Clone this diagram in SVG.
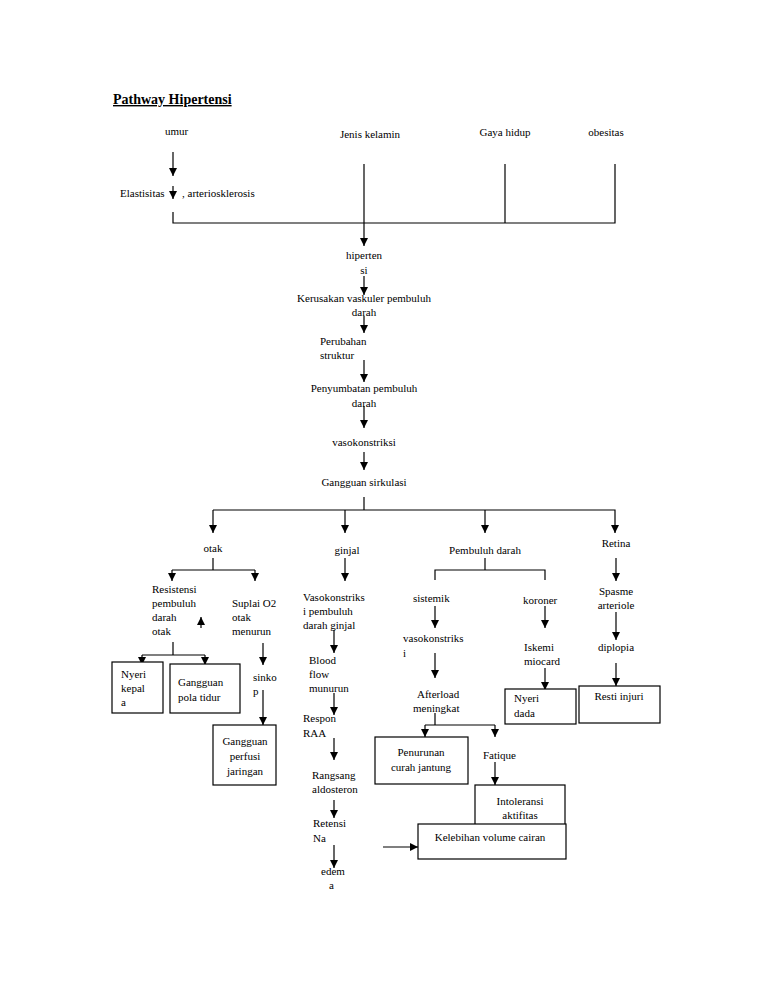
<svg xmlns="http://www.w3.org/2000/svg" width="768" height="994" viewBox="0 0 768 994">
<defs>
<marker id="ah" viewBox="0 0 10 10" refX="10" refY="5" markerWidth="8" markerHeight="8" markerUnits="userSpaceOnUse" orient="auto"><path d="M0,0L10,5L0,10z" fill="#000"/></marker>
<style>
text{font-family:"Liberation Serif","Times New Roman",serif;font-size:11px;fill:#000}
.c{text-anchor:middle}
line,polyline{stroke:#000;stroke-width:1.2;fill:none}
.a{marker-end:url(#ah)}
rect{fill:#fff;stroke:#000;stroke-width:1.2}
</style>
</defs>
<rect x="0" y="0" width="768" height="994" style="stroke:none"/>
<text x="113" y="104" style="font-size:14px;font-weight:bold;text-decoration:underline">Pathway Hipertensi</text>
<g id="connectors">
<line class="a" x1="173" y1="152" x2="173" y2="176"/>
<line class="a" x1="173" y1="186" x2="173" y2="199"/>
<polyline points="173,212 173,223 615,223 615,164"/>
<line x1="505" y1="164" x2="505" y2="223"/>
<line class="a" x1="364" y1="164" x2="364" y2="246"/>
<line class="a" x1="364" y1="276" x2="364" y2="295"/>
<line class="a" x1="364" y1="316" x2="364" y2="333"/>
<line class="a" x1="364" y1="360" x2="364" y2="382"/>
<line class="a" x1="364" y1="406" x2="364" y2="428"/>
<line class="a" x1="364" y1="452" x2="364" y2="470"/>
<polyline points="364,497 364,510"/>
<polyline class="a" points="213,510 615,510 615,533"/>
<line class="a" x1="213" y1="510" x2="213" y2="533"/>
<line class="a" x1="345" y1="510" x2="345" y2="533"/>
<line class="a" x1="485" y1="510" x2="485" y2="533"/>
<polyline points="213,558 213,570"/>
<polyline points="172,570 255,570"/>
<line class="a" x1="172" y1="570" x2="172" y2="581"/>
<line class="a" x1="255" y1="570" x2="255" y2="581"/>
<line class="a" x1="201" y1="628" x2="201" y2="617"/>
<polyline points="173,642 173,655"/>
<polyline points="142,655 205,655"/>
<line class="a" x1="142" y1="655" x2="142" y2="665"/>
<line class="a" x1="205" y1="655" x2="205" y2="665"/>
<line class="a" x1="263" y1="643" x2="263" y2="665"/>
<line class="a" x1="263" y1="690" x2="263" y2="725"/>
<line class="a" x1="345" y1="558" x2="345" y2="581"/>
<line class="a" x1="334" y1="630" x2="334" y2="653"/>
<line class="a" x1="334" y1="693" x2="334" y2="715"/>
<line class="a" x1="334" y1="738" x2="334" y2="760"/>
<line class="a" x1="334" y1="800" x2="334" y2="818"/>
<line class="a" x1="334" y1="845" x2="334" y2="868"/>
<polyline points="485,558 485,570"/>
<polyline points="435,580 435,570 545,570 545,580"/>
<line class="a" x1="435" y1="606" x2="435" y2="628"/>
<line class="a" x1="545" y1="606" x2="545" y2="628"/>
<line class="a" x1="435" y1="653" x2="435" y2="678"/>
<polyline points="435,713 435,725"/>
<polyline points="425,725 495,725"/>
<line class="a" x1="425" y1="725" x2="425" y2="737"/>
<line class="a" x1="495" y1="725" x2="495" y2="737"/>
<line class="a" x1="495" y1="762" x2="495" y2="785"/>
<line class="a" x1="383" y1="847" x2="418" y2="847"/>
<line class="a" x1="545" y1="668" x2="545" y2="690"/>
<line class="a" x1="616" y1="558" x2="616" y2="581"/>
<line class="a" x1="616" y1="612" x2="616" y2="640"/>
<line class="a" x1="616" y1="663" x2="616" y2="686"/>
</g>
<g id="n-umur"><text x="165" y="135">umur</text></g>
<g id="n-jk"><text x="370" y="138" class="c">Jenis kelamin</text></g>
<g id="n-gaya"><text x="505" y="136" class="c">Gaya hidup</text></g>
<g id="n-obes"><text x="606" y="136" class="c">obesitas</text></g>
<g id="n-elast"><text x="120" y="197">Elastisitas</text><text x="182" y="197">, arteriosklerosis</text></g>
<g id="n-hiper"><text x="364" y="259" class="c">hiperten</text><text x="364" y="274" class="c">si</text></g>
<g id="n-kerusakan"><text x="364" y="302" class="c">Kerusakan vaskuler pembuluh</text><text x="364" y="316" class="c">darah</text></g>
<g id="n-perubahan"><text x="320" y="345">Perubahan</text><text x="320" y="359">struktur</text></g>
<g id="n-penyumbatan"><text x="364" y="392" class="c">Penyumbatan pembuluh</text><text x="364" y="407" class="c">darah</text></g>
<g id="n-vaso"><text x="364" y="446" class="c">vasokonstriksi</text></g>
<g id="n-gangsirk"><text x="364" y="486" class="c">Gangguan sirkulasi</text></g>
<g id="n-otak"><text x="213" y="552" class="c">otak</text></g>
<g id="n-ginjal"><text x="347" y="554" class="c">ginjal</text></g>
<g id="n-pd"><text x="485" y="554" class="c">Pembuluh darah</text></g>
<g id="n-retina"><text x="616" y="547" class="c">Retina</text></g>
<g id="n-resist"><text x="152" y="593">Resistensi</text><text x="152" y="607">pembuluh</text><text x="152" y="621">darah</text><text x="152" y="635">otak</text></g>
<g id="n-suplai"><text x="232" y="607">Suplai O2</text><text x="232" y="621">otak</text><text x="232" y="635">menurun</text></g>
<g id="n-sinkop"><text x="253" y="681">sinko</text><text x="253" y="695">p</text></g>
<g id="n-perfusi"><rect x="213" y="725" width="63" height="60"/><text x="245" y="745" class="c">Gangguan</text><text x="245" y="760" class="c">perfusi</text><text x="245" y="775" class="c">jaringan</text></g>
<g id="n-nyerikep"><rect x="112" y="662" width="51" height="51"/><text x="121" y="678">Nyeri</text><text x="121" y="692">kepal</text><text x="121" y="706">a</text></g>
<g id="n-polatidur"><rect x="170" y="664" width="70" height="49"/><text x="178" y="686">Gangguan</text><text x="178" y="701">pola tidur</text></g>
<g id="n-vasoginjal"><text x="303" y="601">Vasokonstriks</text><text x="303" y="615">i pembuluh</text><text x="303" y="629">darah ginjal</text></g>
<g id="n-blood"><text x="309" y="664">Blood</text><text x="309" y="678">flow</text><text x="309" y="692">munurun</text></g>
<g id="n-respon"><text x="303" y="722">Respon</text><text x="303" y="737">RAA</text></g>
<g id="n-rangsang"><text x="312" y="779">Rangsang</text><text x="312" y="793">aldosteron</text></g>
<g id="n-retensi"><text x="313" y="827">Retensi</text><text x="313" y="842">Na</text></g>
<g id="n-edema"><text x="321" y="875">edem</text><text x="329" y="889">a</text></g>
<g id="n-sistemik"><text x="413" y="602">sistemik</text></g>
<g id="n-koroner"><text x="523" y="604">koroner</text></g>
<g id="n-vasosis"><text x="403" y="642">vasokonstriks</text><text x="403" y="657">i</text></g>
<g id="n-afterload"><text x="417" y="698">Afterload</text><text x="413" y="712">meningkat</text></g>
<g id="n-penurunan"><rect x="375" y="737" width="93" height="47"/><text x="421" y="756" class="c">Penurunan</text><text x="421" y="771" class="c">curah jantung</text></g>
<g id="n-fatique"><text x="483" y="759">Fatique</text></g>
<g id="n-intol"><rect x="475" y="785" width="90" height="40"/><text x="520" y="805" class="c">Intoleransi</text><text x="520" y="819" class="c">aktifitas</text></g>
<g id="n-kelebihan"><rect x="418" y="824" width="148" height="35"/><text x="490" y="841" class="c">Kelebihan volume cairan</text></g>
<g id="n-iskemi"><text x="524" y="651">Iskemi</text><text x="524" y="665">miocard</text></g>
<g id="n-nyeridada"><rect x="505" y="689" width="71" height="35"/><text x="514" y="702">Nyeri</text><text x="514" y="717">dada</text></g>
<g id="n-spasme"><text x="616" y="595" class="c">Spasme</text><text x="616" y="609" class="c">arteriole</text></g>
<g id="n-diplopia"><text x="616" y="651" class="c">diplopia</text></g>
<g id="n-resti"><rect x="579" y="686" width="81" height="37"/><text x="619" y="700" class="c">Resti injuri</text></g>
</svg>
